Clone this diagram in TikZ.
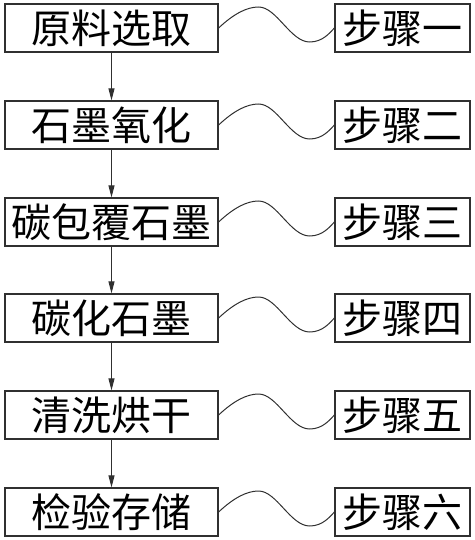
\documentclass[tikz,border=0pt]{standalone}
\usepackage{fontspec}
\newfontfamily\cjk{Noto Sans CJK SC}
\usetikzlibrary{arrows.meta,calc}
\definecolor{ink}{HTML}{303030}

\begin{document}
\begin{tikzpicture}[x=1pt,y=-1pt,
  stepbox/.style={draw=ink,line width=1.2pt,minimum width=213pt,minimum height=48pt,
    inner sep=0pt,text=black,font=\cjk\fontsize{40}{40}\selectfont},
  tagbox/.style={stepbox,minimum width=135pt},
  flow/.style={draw=ink,line width=1pt,-{Triangle[length=12pt,width=6pt]}},
  wave/.style={draw=ink,line width=1pt}
]
\useasboundingbox (0,0) rectangle (474,540);
\node[stepbox] (s1) at (111.5,28) {原料选取};
\node[stepbox] (s2) at (111.5,125) {石墨氧化};
\node[stepbox] (s3) at (111.5,222) {碳包覆石墨};
\node[stepbox] (s4) at (111.5,318) {碳化石墨};
\node[stepbox] (s5) at (111.5,415) {清洗烘干};
\node[stepbox] (s6) at (111.5,512) {检验存储};
\node[tagbox] (t1) at (402.5,28) {步骤一};
\node[tagbox] (t2) at (402.5,125) {步骤二};
\node[tagbox] (t3) at (402.5,222) {步骤三};
\node[tagbox] (t4) at (402.5,318) {步骤四};
\node[tagbox] (t5) at (402.5,415) {步骤五};
\node[tagbox] (t6) at (402.5,512) {步骤六};
% arrows down the left column
\foreach \a/\b in {s1/s2,s2/s3,s3/s4,s4/s5,s5/s6}
  \draw[flow] (\a.south) -- (\b.north);
% wavy leaders to the step tags
\foreach \i in {1,...,6}
  \draw[wave] (s\i.east)
    .. controls ($(s\i.east)+(15,-14)$) and ($(s\i.east)+(28,-21)$) .. ($(s\i.east)+(40,-21)$)
    .. controls ($(s\i.east)+(58,-21)$) and ($(s\i.east)+(72,14)$) .. ($(s\i.east)+(91,14)$)
    .. controls ($(s\i.east)+(104,14)$) and ($(s\i.east)+(111,5)$) .. (t\i.west);
\end{tikzpicture}
\end{document}
